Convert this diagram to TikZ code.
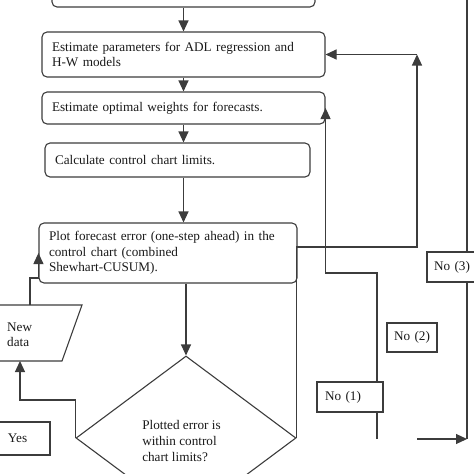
\documentclass[tikz,border=0pt]{standalone}
\usepackage{fontspec}
\setmainfont{Liberation Serif}
\usetikzlibrary{arrows.meta,shapes.geometric,calc}
\definecolor{lncol}{HTML}{3C3C3C}
\definecolor{txcol}{HTML}{1A1A1A}
\tikzset{
  ln/.style={draw=lncol, line width=1.1pt},
  arr/.style={ln, -{Triangle[length=11pt,width=10pt]}},
  txt/.style={text=txcol, font=\fontsize{13.2}{15.5}\selectfont, inner sep=0pt},
  box/.style={ln, txt, fill=white, rounded corners=5pt, align=left},
  lbl/.style={ln, txt, fill=white, align=left, inner ysep=0pt},
  dia/.style={ln, fill=white, shape=diamond, inner sep=0pt, shape aspect=1.3415}
}
\begin{document}
\begin{tikzpicture}[x=1pt,y=-1pt]
\useasboundingbox (0,0) rectangle (474,474);
\clip (0,0) rectangle (474,474);
% process boxes
\node[box, minimum width=263pt, minimum height=40pt] (b1) at (183.5,-13) {};
\node[box, minimum width=283pt, minimum height=45pt, text width=263pt] (b2) at (183.5,54.5)
  {Estimate parameters for ADL regression and\\H-W models};
\node[box, minimum width=283pt, minimum height=32pt, text width=263pt] (b3) at (183.5,108)
  {Estimate optimal weights for forecasts.};
\node[box, minimum width=265pt, minimum height=34pt, text width=245pt] (b4) at (177.5,160)
  {Calculate control chart limits.};
\node[box, minimum width=258pt, minimum height=60pt, text width=238pt] (b5) at (168,253)
  {Plot forecast error (one-step ahead) in the\\control chart (combined\\Shewhart-CUSUM).};
% decision
\node[dia, minimum width=220pt, minimum height=164pt] (d) at (186,438) {};
\node[txt, align=left, font=\fontsize{13.2}{16}\selectfont] (dt) at (181.5,441)
  {Plotted error is\\within control\\chart limits?};
% new data (input)
\draw[ln, fill=white] (-40,361) -- (-20,305) -- (82,305) -- (62,361) -- cycle;
\node[txt, align=left, anchor=west] (nd) at (7,334.5) {New\\data};
\coordinate (ndt) at (30,305);
\coordinate (ndb) at (20,361);
% main flow
\draw[arr] (b1.south) -- (b2.north);
\draw[arr] (b2.south) -- (b3.north);
\draw[arr] (b3.south) -- (b3.south |- b4.north);
\draw[arr] (b3.south |- b4.south) -- (b3.south |- b5.north);
\draw[arr] (d.north |- b5.south) -- (d.north);
% yes loop
\coordinate (yl) at (20,400);
\draw[arr] (d.west) |- (yl) -- (ndb);
\coordinate (bl) at ($(b5.west)+(0,25)$);
\draw[arr] (ndt) |- (bl) -- (b5.west);
% no (3)-style loop to box 2
\coordinate (r3) at (417,247);
\coordinate (t3) at (417,54.5);
\draw[arr] (d.east) |- (r3) -- (t3);
\draw[arr] (t3) -- (b2.east);
% no (1) loop to box 3
\coordinate (e1) at (377,439);
\coordinate (k1) at (377,273);
\draw[arr] (e1) -- (k1) -| (b3.east);
% far right line
\coordinate (t4) at (467,-5);
\coordinate (e4) at (467,439);
\coordinate (s4) at (417,439);
\draw[ln] (t4) -- (e4);
\draw[arr] (s4) -- (e4);
% labels
\node[lbl, minimum width=66pt, minimum height=30pt, text width=50pt, inner xsep=8pt] (n1) at (350,397) {No (1)};
\node[lbl, minimum width=50pt, minimum height=29pt, text width=36pt, inner xsep=7pt] (n2) at (412,337.5) {No (2)};
\node[lbl, minimum width=50pt, minimum height=30pt, text width=36pt, inner xsep=7pt] (n3) at (452,267) {No (3)};
\node[lbl, minimum width=52pt, minimum height=33pt, text width=32pt, inner xsep=10pt] (yes) at (24,438.5) {Yes};
\end{tikzpicture}
\end{document}
